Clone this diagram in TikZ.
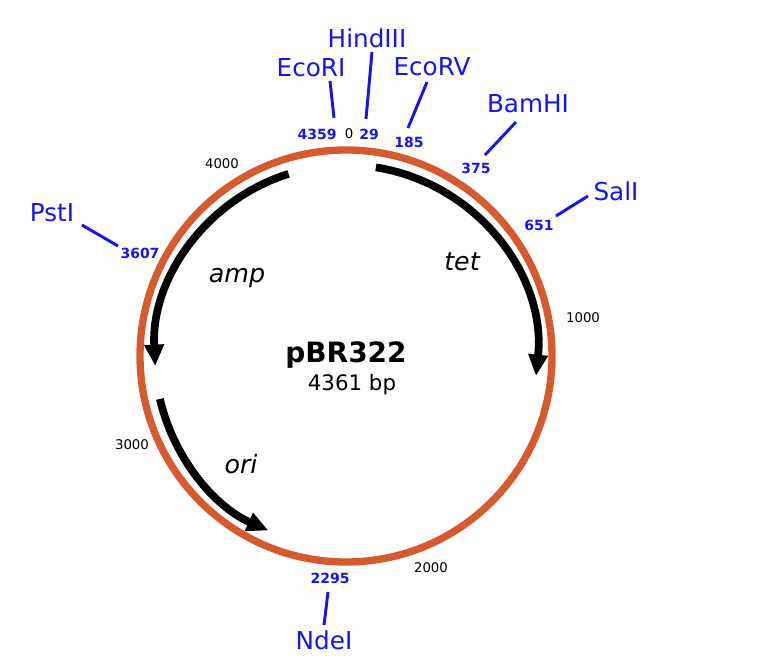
\documentclass[tikz,border=0pt]{standalone}
\usepackage{fontspec}
\setmainfont{DejaVu Sans}
\usetikzlibrary{arrows.meta}
\definecolor{ring}{HTML}{D65A2E}
\definecolor{site}{HTML}{1515F0}
\begin{document}
\begin{tikzpicture}[x=0.75pt,y=0.75pt,
  lab/.style={text=site,font=\fontsize{18.5}{18.5}\selectfont,inner sep=0pt},
  sitepos/.style={text=site,font=\fontsize{10.5}{11}\selectfont\bfseries,inner sep=0pt},
  tickmark/.style={font=\fontsize{10}{11}\selectfont,inner sep=0pt},
  gene/.style={font=\fontsize{19}{19}\selectfont\itshape,inner sep=0pt},
  sline/.style={draw=site,line width=2.2pt},
  garc/.style={line width=5.8pt,-{Triangle[width=14pt,length=16pt]}}]
\useasboundingbox (-346,-314) rectangle (416,356);
\coordinate (c) at (0,0);
\draw[ring,line width=5.5pt] (c) circle (206);
\draw[garc] (81:191) arc (81:-6:191);
\draw[garc] (107.5:191) arc (107.5:183:191);
\draw[garc] (193:191) arc (193:246:191);
\node[font=\fontsize{21}{21}\selectfont\bfseries] (name) at (0,1) {pBR322};
\node[font=\fontsize{16}{16}\selectfont] (size) at (6,-29) {4361 bp};
\node[gene] (amp) at (-109,78) {amp};
\node[gene] (tet) at (116,94) {tet};
\node[gene] (ori) at (-105,-108) {ori};
\node[tickmark] (t0) at (3,222) {0};
\node[tickmark] (t4000) at (-124,192) {4000};
\node[tickmark] (t1000) at (237,38) {1000};
\node[tickmark] (t3000) at (-214,-89) {3000};
\node[tickmark] (t2000) at (85,-212) {2000};
\node[sitepos] (p4359) at (-29,222) {4359};
\node[sitepos] (p29) at (23,222) {29};
\node[sitepos] (p185) at (63,214) {185};
\node[sitepos] (p375) at (130,188) {375};
\node[sitepos] (p651) at (193,131) {651};
\node[sitepos] (p3607) at (-206,103) {3607};
\node[sitepos] (p2295) at (-16,-222) {2295};
\node[lab] (ecori) at (-35,288) {EcoRI};
\node[lab] (hind) at (21,318) {HindIII};
\node[lab] (ecorv) at (86,289) {EcoRV};
\node[lab] (bam) at (182,252) {BamHI};
\node[lab] (sal) at (270,165) {SalI};
\node[lab] (pst) at (-294,143) {PstI};
\node[lab] (nde) at (-22,-284) {NdeI};
\coordinate (a1) at (-16,275); \coordinate (b1) at (-12,238);
\coordinate (a2) at (26,304); \coordinate (b2) at (20,237);
\coordinate (a3) at (81,274); \coordinate (b3) at (62,228);
\coordinate (a4) at (170,234); \coordinate (b4) at (139,201);
\coordinate (a5) at (242,160); \coordinate (b5) at (210,140);
\coordinate (a6) at (-264,131); \coordinate (b6) at (-228,110);
\coordinate (a7) at (-18,-236); \coordinate (b7) at (-22,-269);
\foreach \i in {1,...,7} \draw[sline] (a\i) -- (b\i);
\end{tikzpicture}
\end{document}
